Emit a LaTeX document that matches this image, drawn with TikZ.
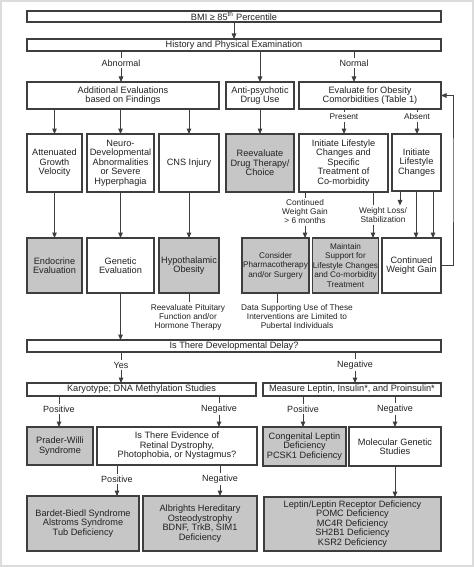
\documentclass[tikz,border=0pt]{standalone}
\usepackage{fontspec}
\setmainfont{Liberation Sans}
\usetikzlibrary{arrows.meta}
\definecolor{lnc}{HTML}{3E3E3E}
\definecolor{gfill}{HTML}{C6C6C6}
\definecolor{txt}{HTML}{222222}
\definecolor{frm}{HTML}{DCDCDC}
\newcommand\mkbox[7]{\node[#1, minimum width={(#5-#3)*1pt}, minimum height={(#6-#4)*1pt}] (#2) at ({(#3+#5)/2},{(#4+#6)/2}) {#7};}
\tikzset{
  basebox/.style={draw=lnc, line width=1.1pt, inner sep=0pt, outer sep=0pt, align=center, text=txt,
    font=\fontsize{9.2}{9.5}\selectfont},
  wbox/.style={basebox, fill=white},
  gbox/.style={basebox, fill=gfill},
  lblb/.style={inner sep=1.8pt, align=center, text=txt, font=\fontsize{9}{9.5}\selectfont},
  lbls/.style={inner sep=1.8pt, align=center, text=txt, font=\fontsize{8.3}{9}\selectfont},
  ln/.style={draw=lnc, line width=1pt},
  arr/.style={draw=lnc, line width=1pt, -{Triangle[length=5.5pt,width=4.6pt]}},
}
\begin{document}
\begin{tikzpicture}[x=1pt,y=-1pt]
\useasboundingbox (0,0) rectangle (474,567);
\fill[frm] (0,0) rectangle (474,567);
\fill[white] (2,2) rectangle (472,565);

% boxes
\mkbox{wbox}{bmi}{27}{11}{441}{22}{BMI ≥ 85\textsuperscript{th} Percentile}
\mkbox{wbox}{hist}{27}{39}{441}{51}{History and Physical Examination}
\mkbox{wbox}{addl}{27}{82}{219}{109}{Additional Evaluations\\based on Findings}
\mkbox{wbox}{anti}{226}{82}{294}{109}{Anti-psychotic\\Drug Use}
\mkbox{wbox}{evalc}{299}{82}{441}{109}{Evaluate for Obesity\\Comorbidities (Table 1)}

\mkbox{wbox}{att}{27}{134}{82}{192}{Attenuated\\Growth\\Velocity}
\mkbox{wbox}{neuro}{87}{134}{154}{192}{Neuro-\\Developmental\\Abnormalities\\or Severe\\Hyperphagia}
\mkbox{wbox}{cns}{159}{134}{219}{192}{CNS Injury}
\mkbox{gbox}{reev}{226}{134}{294}{192}{Reevaluate\\Drug Therapy/\\Choice}
\mkbox{wbox}{spec}{299}{134}{388}{192}{Initiate Lifestyle\\Changes and\\Specific\\Treatment of\\Co-morbidity}
\mkbox{wbox}{initr}{392}{134}{441}{191}{Initiate\\Lifestyle\\Changes}

\mkbox{gbox}{endo}{27}{238}{82}{293}{Endocrine\\Evaluation}
\mkbox{wbox}{gen}{87}{238}{154}{293}{Genetic\\Evaluation}
\mkbox{gbox}{hypo}{159}{238}{219}{293}{Hypothalamic\\Obesity}
\mkbox{gbox, font=\fontsize{8.2}{9.5}\selectfont}{cons}{242}{238}{309}{293}{Consider\\Pharmacotherapy\\and/or Surgery}
\mkbox{gbox, font=\fontsize{8.2}{9.5}\selectfont}{maint}{313}{238}{378}{293}{Maintain\\Support for\\Lifestyle Changes\\and Co-morbidity\\Treatment}
\mkbox{wbox}{cwg}{382}{238}{441}{293}{Continued\\Weight Gain}

\mkbox{wbox}{dd}{27}{340}{441}{352}{Is There Developmental Delay?}
\mkbox{wbox}{kary}{27}{383}{256}{396}{Karyotype; DNA Methylation Studies}
\mkbox{wbox}{meas}{263}{383}{441}{396}{Measure Leptin, Insulin*, and Proinsulin*}

\mkbox{gbox}{prader}{27}{427}{93}{465}{Prader-Willi\\Syndrome}
\mkbox{wbox}{evid}{97}{427}{257}{465}{Is There Evidence of\\Retinal Dystrophy,\\Photophobia, or Nystagmus?}
\mkbox{gbox}{cong}{263}{427}{346}{466}{Congenital Leptin\\Deficiency\\PCSK1 Deficiency}
\mkbox{wbox}{molec}{349}{427}{441}{466}{Molecular Genetic\\Studies}

\mkbox{gbox}{bard}{27}{496}{139}{551}{Bardet-Biedl Syndrome\\Alstroms Syndrome\\Tub Deficiency}
\mkbox{gbox}{albr}{143}{496}{257}{551}{Albrights Hereditary\\Osteodystrophy\\BDNF, TrkB, SIM1\\Deficiency}
\mkbox{gbox}{lep}{264}{497}{441}{551}{Leptin/Leptin Receptor Deficiency\\POMC Deficiency\\MC4R Deficiency\\SH2B1 Deficiency\\KSR2 Deficiency}

% labels
\node[lblb] (abn) at (121,63) {Abnormal};
\node[lblb] (nor) at (354,63) {Normal};
\node[lbls] (pres) at (344,117) {Present};
\node[lbls] (abs) at (417,117) {Absent};
\node[lbls] (cwgl) at (305,212) {Continued\\Weight Gain\\> 6 months};
\node[lbls] (wl) at (383,215) {Weight Loss/\\Stabilization};
\node[lbls] (pit) at (188,317) {Reevaluate Pituitary\\Function and/or\\Hormone Therapy};
\node[lbls] (data) at (297,317) {Data Supporting Use of These\\Interventions are Limited to\\Pubertal Individuals};
\node[lblb] (yes) at (121,365) {Yes};
\node[lblb] (neg1) at (355,365) {Negative};
\node[lblb] (pos2) at (59,409) {Positive};
\node[lblb] (neg2) at (219,409) {Negative};
\node[lblb] (pos3) at (303,409) {Positive};
\node[lblb] (neg3) at (395,409) {Negative};
\node[lblb] (pos4) at (117,479) {Positive};
\node[lblb] (neg4) at (220,479) {Negative};

\coordinate (wlx) at (373,0);
\coordinate (wsx) at (400,0);
\coordinate (c1x) at (416,0);
\coordinate (c2x) at (433,0);
\coordinate (datx) at (277,0);
\coordinate (fbx) at (453,180);

% connectors
\draw[arr] (bmi) -- (hist);
\draw[ln] (hist.south -| abn) -- (abn.north);
\draw[arr] (abn.south) -- (addl.north -| abn);
\draw[arr] (hist.south -| anti) -- (anti.north);
\draw[ln] (hist.south -| nor) -- (nor.north);
\draw[arr] (nor.south) -- (evalc.north -| nor);

\draw[arr] (addl.south -| att) -- (att.north);
\draw[arr] (addl.south -| neuro) -- (neuro.north);
\draw[arr] (addl.south -| cns) -- (cns.north);
\draw[arr] (anti) -- (reev);
\draw[ln] (evalc.south -| pres) -- (pres.north);
\draw[arr] (pres.south) -- (spec.north -| pres);
\draw[ln] (evalc.south -| abs) -- (abs.north);
\draw[arr] (abs.south) -- (initr.north -| abs);

\draw[arr] (att) -- (endo);
\draw[arr] (neuro) -- (gen);
\draw[arr] (cns) -- (hypo);
\draw[ln] (spec.south -| cwgl) -- (cwgl.north);
\draw[arr] (cwgl.south) -- (cons.north -| cwgl);
\draw[ln] (spec.south -| wlx) -- (wl.north -| wlx);
\draw[arr] (wl.south -| wlx) -- (maint.north -| wlx);
\draw[arr] (initr.south -| wsx) -- (wl.north -| wsx);
\draw[arr] (initr.south -| c1x) -- (cwg.north -| c1x);
\draw[arr] (initr.south -| c2x) -- (cwg.north -| c2x);
\draw[arr] (cwg.east) -| (fbx) |- (evalc.east);

\draw[ln] (hypo.south) -- (pit.north -| hypo.south);
\draw[ln] (cons.south -| datx) -- (data.north -| datx);
\draw[arr] (gen) -- (dd.north -| gen);

\draw[ln] (dd.south -| yes) -- (yes.north);
\draw[arr] (yes.south) -- (kary.north -| yes);
\draw[ln] (dd.south -| neg1) -- (neg1.north);
\draw[arr] (neg1.south) -- (meas.north -| neg1);

\draw[ln] (kary.south -| pos2) -- (pos2.north);
\draw[arr] (pos2.south) -- (prader.north -| pos2);
\draw[ln] (kary.south -| neg2) -- (neg2.north);
\draw[arr] (neg2.south) -- (evid.north -| neg2);
\draw[ln] (meas.south -| pos3) -- (pos3.north);
\draw[arr] (pos3.south) -- (cong.north -| pos3);
\draw[ln] (meas.south -| neg3) -- (neg3.north);
\draw[arr] (neg3.south) -- (molec.north -| neg3);

\draw[ln] (evid.south -| pos4) -- (pos4.north);
\draw[arr] (pos4.south) -- (bard.north -| pos4);
\draw[ln] (evid.south -| neg4) -- (neg4.north);
\draw[arr] (neg4.south) -- (albr.north -| neg4);
\draw[arr] (molec) -- (lep.north -| molec);
\end{tikzpicture}
\end{document}
